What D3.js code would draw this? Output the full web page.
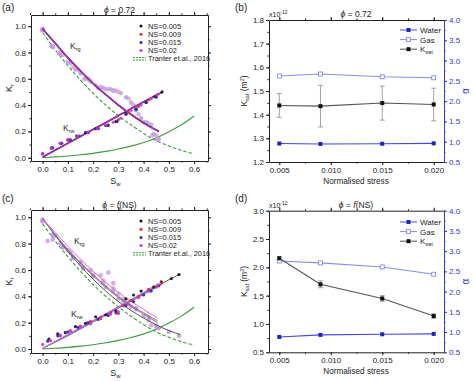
<!DOCTYPE html>
<html>
<head>
<meta charset="utf-8">
<script src="https://cdn.jsdelivr.net/npm/d3@7"></script>
<style>
  body { margin: 0; background: #fff; }
  text { font-family: "Liberation Sans", Arial, sans-serif; }
</style>
</head>
<body>
<div id="chart"></div>
<script>
var svgWidth = 474;
var svgHeight = 381;

// ---------- data: panels (a) and (c) ----------
var nsLabels = ["NS=0.005", "NS=0.009", "NS=0.015", "NS=0.02"];
var nsColors = ["#111111", "#e0302a", "#2424c8", "#cc33dd"];
var nsPale = ["#b8a0c8", "#d8a0d0", "#a8a0e0", "#d493e8"];

// Tranter et al., 2016 (same curves in a and c)
var tranterSw = [0, 0.05, 0.1, 0.15, 0.2, 0.25, 0.3, 0.35, 0.4, 0.45, 0.5, 0.55, 0.6];
var tranterKrg = [0.95, 0.82, 0.70, 0.59, 0.49, 0.40, 0.32, 0.25, 0.185, 0.13, 0.09, 0.055, 0.03];
var tranterKrw = [0.0, 0.006, 0.013, 0.022, 0.033, 0.048, 0.066, 0.088, 0.115, 0.15, 0.197, 0.25, 0.317];

// (a) fitted curves, phi = 0.72
var fitSwA = [0, 0.05, 0.1, 0.15, 0.2, 0.25, 0.3, 0.35, 0.4, 0.46];
var fitKrgA = [0.98, 0.87, 0.76, 0.66, 0.565, 0.48, 0.40, 0.33, 0.265, 0.20];
var fitKrwSwA = [0, 0.1, 0.2, 0.3, 0.4, 0.47];
var fitKrwA = [0.005, 0.11, 0.215, 0.32, 0.425, 0.495];

// (a) measured points, one pair of arrays per NS
var krwSwA = [
  [0.035, 0.07, 0.10, 0.135, 0.17, 0.21, 0.25, 0.29, 0.33, 0.37, 0.41, 0.445, 0.473],
  [0.0, 0.035, 0.075, 0.105, 0.14, 0.18, 0.22, 0.26, 0.30, 0.34, 0.38, 0.42, 0.45],
  [0.0, 0.04, 0.075, 0.11, 0.145, 0.18, 0.22, 0.26, 0.295, 0.33, 0.37, 0.41, 0.45],
  [0.0, 0.035, 0.07, 0.10, 0.14, 0.18, 0.215, 0.25, 0.28, 0.31, 0.35, 0.39, 0.43, 0.455]
];
var krwA = [
  [0.075, 0.11, 0.135, 0.165, 0.19, 0.22, 0.245, 0.275, 0.335, 0.37, 0.42, 0.465, 0.50],
  [0.03, 0.07, 0.11, 0.135, 0.16, 0.195, 0.225, 0.25, 0.29, 0.345, 0.39, 0.44, 0.47],
  [0.03, 0.075, 0.11, 0.135, 0.165, 0.19, 0.22, 0.245, 0.275, 0.33, 0.37, 0.42, 0.46],
  [0.03, 0.07, 0.11, 0.135, 0.165, 0.19, 0.22, 0.25, 0.27, 0.30, 0.36, 0.40, 0.45, 0.48]
];
var krgSwA = [
  [0.0, 0.04, 0.08, 0.13, 0.17, 0.22, 0.27, 0.31, 0.35, 0.39, 0.43, 0.46],
  [0.0, 0.04, 0.075, 0.12, 0.165, 0.21, 0.25, 0.30, 0.34, 0.38, 0.42, 0.45],
  [0.0, 0.035, 0.07, 0.11, 0.15, 0.19, 0.24, 0.28, 0.33, 0.37, 0.41, 0.44],
  [0.0, 0.04, 0.065, 0.10, 0.14, 0.18, 0.23, 0.26, 0.29, 0.36, 0.40, 0.435, 0.455]
];
var krgA = [
  [0.975, 0.845, 0.78, 0.67, 0.60, 0.53, 0.52, 0.49, 0.42, 0.30, 0.25, 0.14],
  [0.97, 0.84, 0.79, 0.69, 0.60, 0.55, 0.52, 0.50, 0.45, 0.33, 0.26, 0.17],
  [0.97, 0.85, 0.80, 0.72, 0.64, 0.58, 0.53, 0.51, 0.46, 0.36, 0.27, 0.18],
  [0.98, 0.845, 0.79, 0.73, 0.67, 0.60, 0.54, 0.52, 0.51, 0.40, 0.27, 0.17, 0.14]
];

// (c) fitted curves, phi = f(NS)
var fitKrgSwC = [
  [0, 0.1, 0.2, 0.3, 0.4, 0.5, 0.545],
  [0, 0.1, 0.2, 0.3, 0.4, 0.455],
  [0, 0.1, 0.2, 0.3, 0.4, 0.455],
  [0, 0.1, 0.2, 0.3, 0.4, 0.455]
];
var fitKrgC = [
  [0.99, 0.74, 0.53, 0.36, 0.235, 0.14, 0.11],
  [0.99, 0.755, 0.565, 0.40, 0.275, 0.215],
  [0.99, 0.75, 0.555, 0.39, 0.265, 0.20],
  [0.99, 0.78, 0.59, 0.43, 0.30, 0.235]
];
var fitKrwSwC = [
  [0, 0.1, 0.2, 0.3, 0.4, 0.5, 0.545],
  [0, 0.1, 0.2, 0.3, 0.4, 0.47],
  [0, 0.1, 0.2, 0.3, 0.4, 0.47],
  [0, 0.1, 0.2, 0.3, 0.4, 0.46]
];
var fitKrwC = [
  [0.005, 0.11, 0.215, 0.32, 0.425, 0.525, 0.57],
  [0.005, 0.105, 0.21, 0.315, 0.42, 0.495],
  [0.005, 0.10, 0.205, 0.31, 0.415, 0.49],
  [0.005, 0.11, 0.215, 0.32, 0.43, 0.50]
];

// (c) measured points
var krwSwC = [
  [0.025, 0.06, 0.09, 0.13, 0.17, 0.21, 0.25, 0.29, 0.33, 0.36, 0.39, 0.42, 0.44, 0.47, 0.51, 0.54],
  [0.03, 0.07, 0.11, 0.15, 0.19, 0.23, 0.27, 0.30, 0.32, 0.35, 0.38, 0.42, 0.45, 0.47],
  [0.02, 0.06, 0.10, 0.14, 0.18, 0.22, 0.26, 0.29, 0.33, 0.36, 0.40, 0.43, 0.46],
  [0.0, 0.03, 0.07, 0.11, 0.15, 0.19, 0.23, 0.27, 0.30, 0.34, 0.38, 0.42, 0.455]
];
var krwC = [
  [0.075, 0.115, 0.125, 0.17, 0.195, 0.245, 0.26, 0.29, 0.38, 0.41, 0.44, 0.45, 0.47, 0.51, 0.535, 0.565],
  [0.065, 0.10, 0.14, 0.175, 0.21, 0.24, 0.275, 0.27, 0.33, 0.37, 0.40, 0.45, 0.47, 0.50],
  [0.06, 0.10, 0.13, 0.165, 0.20, 0.225, 0.255, 0.275, 0.33, 0.36, 0.41, 0.44, 0.48],
  [0.035, 0.065, 0.105, 0.135, 0.17, 0.19, 0.23, 0.265, 0.285, 0.34, 0.39, 0.44, 0.48]
];
var krgSwC = [
  [0.0, 0.05, 0.1, 0.15, 0.2, 0.25, 0.3, 0.35, 0.4, 0.46, 0.5, 0.54],
  [0.0, 0.04, 0.08, 0.12, 0.16, 0.2, 0.24, 0.28, 0.32, 0.37, 0.42, 0.45],
  [0.0, 0.04, 0.08, 0.12, 0.16, 0.2, 0.24, 0.28, 0.32, 0.37, 0.42, 0.45],
  [0.0, 0.02, 0.04, 0.07, 0.11, 0.15, 0.19, 0.23, 0.26, 0.28, 0.3, 0.43, 0.46]
];
var krgC = [
  [0.98, 0.86, 0.75, 0.66, 0.56, 0.47, 0.38, 0.32, 0.25, 0.16, 0.13, 0.10],
  [0.97, 0.87, 0.78, 0.70, 0.62, 0.56, 0.52, 0.46, 0.38, 0.31, 0.24, 0.18],
  [0.97, 0.86, 0.77, 0.69, 0.61, 0.55, 0.50, 0.44, 0.36, 0.30, 0.22, 0.17],
  [0.98, 0.82, 0.83, 0.80, 0.73, 0.65, 0.60, 0.56, 0.58, 0.50, 0.42, 0.18, 0.16]
];

// ---------- data: panels (b) and (d) ----------
var stress = [0.005, 0.009, 0.015, 0.020];
var xTicksStress = [0.005, 0.010, 0.015, 0.020];
var waterAlphaB = [0.955, 0.945, 0.95, 0.96];
var gasAlphaB = [2.62, 2.67, 2.60, 2.575];
var ksatB = [1.439, 1.436, 1.449, 1.443];
var ksatErrB = [0.05, 0.088, 0.072, 0.069];
var waterAlphaD = [0.88, 0.93, 0.945, 0.955];
var gasAlphaD = [2.755, 2.71, 2.61, 2.43];
var ksatD = [2.16, 1.70, 1.45, 1.14];
var ksatErrD = [0.03, 0.06, 0.05, 0.04];

var svg = d3.select("#chart")
  .append("svg")
  .attr("width", svgWidth)
  .attr("height", svgHeight);

var blue = "#3535d8";
var green = "#3d9b3d";

function range(a, b, s) {
  var out = [];
  for (var v = a; v <= b + s / 1000; v += s) out.push(+v.toFixed(6));
  return out;
}

// draw one axis with major + minor ticks
function drawAxis(g, axisFn, scale, major, minor, fmt, transform, color, labels) {
  var major_ = axisFn(scale).tickValues(major).tickSize(3).tickSizeOuter(0).tickPadding(2)
    .tickFormat(labels ? fmt : "");
  var minor_ = axisFn(scale).tickValues(minor).tickSize(1.6).tickSizeOuter(0).tickFormat("");
  var a = g.append("g").attr("transform", transform).call(major_);
  var m = g.append("g").attr("transform", transform).call(minor_);
  m.select(".domain").remove();
  m.selectAll("line").attr("stroke", color);
  a.selectAll("path,line").attr("stroke", color);
  a.selectAll("text").attr("fill", color).attr("font-size", "8px")
    .attr("font-family", "Liberation Sans, Arial, sans-serif");
  return a;
}

function krPanel(o) {
  var g = svg.append("g");
  var x = d3.scaleLinear().domain([-0.046, 0.655]).range([o.L, o.R]);
  var y = d3.scaleLinear().domain(o.yDom).range([o.B, o.T]);
  var xMaj = range(0, 0.6, 0.1), xMin = range(-0.05, 0.65, 0.05);
  var yMaj = range(0, 1, 0.2), yMin = range(0, 1, 0.1);
  var f1 = d3.format(".1f");
  drawAxis(g, d3.axisBottom, x, xMaj, xMin, f1, "translate(0," + o.B + ")", "#222", true);
  drawAxis(g, d3.axisTop, x, xMaj, xMin, f1, "translate(0," + o.T + ")", "#222", false);
  drawAxis(g, d3.axisLeft, y, yMaj, yMin, f1, "translate(" + o.L + ",0)", "#222", true);
  drawAxis(g, d3.axisRight, y, yMaj, yMin, f1, "translate(" + o.R + ",0)", "#222", false);

  var line = d3.line().x(d => x(d[0])).y(d => y(d[1])).curve(d3.curveMonotoneX);
  var body = g.append("g");

  // Tranter curves
  body.append("path").attr("d", line(d3.zip(tranterSw, tranterKrg)))
    .attr("fill", "none").attr("stroke", green).attr("stroke-width", 1.1).attr("stroke-dasharray", "3.5,2");
  body.append("path").attr("d", line(d3.zip(tranterSw, tranterKrw)))
    .attr("fill", "none").attr("stroke", green).attr("stroke-width", 1.1);

  // measured Krg points (pale)
  o.krgSw.forEach(function(sw, i) {
    body.selectAll(null).data(d3.zip(sw, o.krg[i])).enter().append("circle")
      .attr("cx", d => x(d[0])).attr("cy", d => y(d[1])).attr("r", 2.3)
      .attr("fill", nsPale[i]).attr("opacity", 0.8);
  });

  // fitted curves
  o.fits.forEach(function(f) {
    body.append("path").attr("d", line(d3.zip(f.sw, f.kr)))
      .attr("fill", "none").attr("stroke", f.color).attr("stroke-width", f.w || 1.2)
      .attr("stroke-opacity", f.op || 1);
  });

  // measured Krw points
  o.krwSw.forEach(function(sw, i) {
    body.selectAll(null).data(d3.zip(sw, o.krw[i])).enter().append("circle")
      .attr("cx", d => x(d[0])).attr("cy", d => y(d[1])).attr("r", 1.6)
      .attr("fill", nsColors[i]).attr("opacity", 0.9);
  });

  // curve labels
  var t1 = g.append("text").attr("x", o.kgLab[0]).attr("y", o.kgLab[1]).attr("font-size", "8.5px").attr("fill", "#222");
  t1.append("tspan").text("K");
  t1.append("tspan").attr("font-size", "5.5px").attr("dy", 2).text("rg");
  var t2 = g.append("text").attr("x", o.kwLab[0]).attr("y", o.kwLab[1]).attr("font-size", "8.5px").attr("fill", "#222");
  t2.append("tspan").text("K");
  t2.append("tspan").attr("font-size", "5.5px").attr("dy", 2).text("rw");

  // axis titles
  var yl = g.append("text").attr("transform", "translate(12," + ((o.T + o.B) / 2) + ") rotate(-90)")
    .attr("text-anchor", "middle").attr("font-size", "9px").attr("fill", "#222");
  yl.append("tspan").text("K");
  yl.append("tspan").attr("font-size", "6px").attr("dy", 2).text("r");
  var xl = g.append("text").attr("x", (o.L + o.R) / 2 - 4).attr("y", o.B + 23)
    .attr("text-anchor", "middle").attr("font-size", "9px").attr("fill", "#222");
  xl.append("tspan").text("S");
  xl.append("tspan").attr("font-size", "6px").attr("dy", 2).text("w");

  // title
  var tt = g.append("text").attr("x", (o.L + o.R) / 2).attr("y", o.T - 2).attr("text-anchor", "middle")
    .attr("font-family", "Liberation Serif, Times New Roman, serif").attr("font-size", "8.5px").attr("fill", "#222");
  tt.append("tspan").attr("font-style", "italic").text("\u03D5");
  tt.append("tspan").text(" = ");
  o.title(tt);

  g.append("text").attr("x", 2).attr("y", o.panelY).attr("font-size", "10px").attr("fill", "#222").text(o.panel);

  // legend
  var lx = 141, ly = o.T + 13.5, dy = 8.2;
  nsLabels.forEach(function(lab, i) {
    g.append("circle").attr("cx", lx).attr("cy", ly + i * dy - 2.5).attr("r", 1.5).attr("fill", nsColors[i]);
    g.append("text").attr("x", lx + 7).attr("y", ly + i * dy).attr("font-size", "7.4px").attr("fill", "#222").text(lab);
  });
  var ty = ly + 4 * dy - 2.5;
  g.append("line").attr("x1", 133).attr("x2", 146).attr("y1", ty - 1.2).attr("y2", ty - 1.2)
    .attr("stroke", green).attr("stroke-width", 1).attr("stroke-dasharray", "2,1");
  g.append("line").attr("x1", 133).attr("x2", 146).attr("y1", ty + 1.2).attr("y2", ty + 1.2)
    .attr("stroke", green).attr("stroke-width", 1).attr("stroke-dasharray", "2,1");
  g.append("text").attr("x", 148).attr("y", ly + 4 * dy).attr("font-size", "7.4px").attr("fill", "#222")
    .text("Tranter et.al., 2016");
}

function stressPanel(o) {
  var g = svg.append("g");
  var x = d3.scaleLinear().domain([0.004, 0.021]).range([o.L, o.R]);
  var yL = d3.scaleLinear().domain(o.yDom).range([o.B, o.T]);
  var yR = d3.scaleLinear().domain([0.5, 4.0]).range([o.B, o.T]);
  var xMin = range(0.0025, 0.0225, 0.0025).filter(v => v >= 0.004 && v <= 0.021);
  var f3 = d3.format(".3f"), f1 = d3.format(".1f");
  drawAxis(g, d3.axisBottom, x, xTicksStress, xMin, f3, "translate(0," + o.B + ")", "#222", true);
  drawAxis(g, d3.axisTop, x, xTicksStress, xMin, f3, "translate(0," + o.T + ")", "#222", false);
  drawAxis(g, d3.axisLeft, yL, o.yMaj, o.yMin, f1, "translate(" + o.L + ",0)", "#222", true);
  drawAxis(g, d3.axisRight, yR, range(0.5, 4, 0.5), range(0.5, 4, 0.25), f1, "translate(" + o.R + ",0)", blue, true);

  var lineL = d3.line().x((d, i) => x(stress[i])).y(d => yL(d));
  var lineR = d3.line().x((d, i) => x(stress[i])).y(d => yR(d));

  // error bars
  o.ksat.forEach(function(v, i) {
    var cx = x(stress[i]);
    g.append("line").attr("x1", cx).attr("x2", cx).attr("y1", yL(v - o.err[i])).attr("y2", yL(v + o.err[i]))
      .attr("stroke", "#8a8a8a").attr("stroke-width", 0.8);
    [v - o.err[i], v + o.err[i]].forEach(function(e) {
      g.append("line").attr("x1", cx - 2.5).attr("x2", cx + 2.5).attr("y1", yL(e)).attr("y2", yL(e))
        .attr("stroke", "#8a8a8a").attr("stroke-width", 0.8);
    });
  });

  g.append("path").attr("d", lineR(o.water)).attr("fill", "none").attr("stroke", "#4646e0").attr("stroke-width", 1.1);
  g.append("path").attr("d", lineR(o.gas)).attr("fill", "none").attr("stroke", "#8c8cf0").attr("stroke-width", 1.1);
  g.append("path").attr("d", lineL(o.ksat)).attr("fill", "none").attr("stroke", "#555").attr("stroke-width", 1.1);

  var s = 4;
  g.selectAll(null).data(o.water).enter().append("rect")
    .attr("x", (d, i) => x(stress[i]) - s / 2).attr("y", d => yR(d) - s / 2)
    .attr("width", s).attr("height", s).attr("fill", "#2020c8");
  g.selectAll(null).data(o.gas).enter().append("rect")
    .attr("x", (d, i) => x(stress[i]) - s / 2).attr("y", d => yR(d) - s / 2)
    .attr("width", s).attr("height", s).attr("fill", "#fff").attr("stroke", "#7a7aee").attr("stroke-width", 0.8);
  g.selectAll(null).data(o.ksat).enter().append("rect")
    .attr("x", (d, i) => x(stress[i]) - s / 2).attr("y", d => yL(d) - s / 2)
    .attr("width", s).attr("height", s).attr("fill", "#111");

  // legend
  var items = [
    { name: "Water", stroke: "#4646e0", fill: "#2020c8" },
    { name: "Gas", stroke: "#8c8cf0", fill: "#fff" },
    { name: "K", stroke: "#555", fill: "#111", sub: "sat" }
  ];
  items.forEach(function(it, i) {
    var ly = o.legY + i * 9.6;
    g.append("line").attr("x1", 400).attr("x2", 417).attr("y1", ly).attr("y2", ly)
      .attr("stroke", it.stroke).attr("stroke-width", 1);
    g.append("rect").attr("x", 408.5 - 2).attr("y", ly - 2).attr("width", 4).attr("height", 4)
      .attr("fill", it.fill).attr("stroke", it.fill === "#fff" ? "#7a7aee" : "none").attr("stroke-width", 0.8);
    var t = g.append("text").attr("x", 420).attr("y", ly + 3).attr("font-size", "8px").attr("fill", "#222");
    t.append("tspan").text(it.name);
    if (it.sub) t.append("tspan").attr("font-size", "5.5px").attr("dy", 2).text(it.sub);
  });

  // exponent note
  var ex = g.append("text").attr("x", o.L).attr("y", o.T - 3).attr("font-size", "7px").attr("fill", "#222");
  ex.append("tspan").text("x10");
  ex.append("tspan").attr("font-size", "5px").attr("dy", -3).text("-12");

  var tt = g.append("text").attr("x", 356).attr("y", o.T - 3).attr("text-anchor", "middle")
    .attr("font-family", "Liberation Serif, Times New Roman, serif").attr("font-size", "8.5px").attr("fill", "#222");
  tt.append("tspan").attr("font-style", "italic").text("\u03D5");
  tt.append("tspan").text(" = ");
  o.title(tt);

  var yl = g.append("text").attr("transform", "translate(247," + ((o.T + o.B) / 2) + ") rotate(-90)")
    .attr("text-anchor", "middle").attr("font-size", "8.5px").attr("fill", "#222");
  yl.append("tspan").text("K");
  yl.append("tspan").attr("font-size", "5.5px").attr("dy", 2).text("sat");
  yl.append("tspan").attr("dy", -2).text(" (m");
  yl.append("tspan").attr("font-size", "5.5px").attr("dy", -3).text("2");
  yl.append("tspan").attr("dy", 3).text(")");

  g.append("text").attr("transform", "translate(469," + ((o.T + o.B) / 2) + ") rotate(-90)")
    .attr("text-anchor", "middle").attr("font-size", "10px").attr("fill", blue).text("\u03B1");

  g.append("text").attr("x", 356).attr("y", o.B + 22).attr("text-anchor", "middle")
    .attr("font-size", "8.2px").attr("fill", "#222").text("Normalised stress");

  g.append("text").attr("x", 235).attr("y", o.panelY).attr("font-size", "10px").attr("fill", "#222").text(o.panel);
}

function fixedTitle(txt) { return function(t) { t.append("tspan").text(txt); }; }
function fnsTitle(t) {
  t.append("tspan").attr("font-style", "italic").text("f");
  t.append("tspan").text("(NS)");
}

var fitsA = nsColors.map(function(c, i) {
  return [
    { sw: fitSwA, kr: fitKrgA, color: i === 3 ? "#b03cc0" : "#5a1a70", op: 0.8, w: 1.4 },
    { sw: fitKrwSwA, kr: fitKrwA, color: i === 3 ? "#b03cc0" : "#5a1a70", op: 0.8, w: 1.4 }
  ];
}).flat();

var fitColorsC = ["#5f4f4f", "#c06a4a", "#6a6ad8", "#d66ae0"];
var fitsC = [];
fitKrgC.forEach(function(kr, i) {
  fitsC.push({ sw: fitKrgSwC[i], kr: kr, color: fitColorsC[i], w: 1 });
  fitsC.push({ sw: fitKrwSwC[i], kr: fitKrwC[i], color: fitColorsC[i], w: 1 });
});

krPanel({
  L: 31, R: 208, T: 15, B: 161, yDom: [-0.025, 1.085], panel: "(a)", panelY: 11,
  title: fixedTitle("0.72"),
  krwSw: krwSwA, krw: krwA, krgSw: krgSwA, krg: krgA, fits: fitsA,
  kgLab: [70, 49], kwLab: [63, 131]
});
krPanel({
  L: 31, R: 208, T: 210, B: 353, yDom: [-0.03, 1.055], panel: "(c)", panelY: 202,
  title: fnsTitle,
  krwSw: krwSwC, krw: krwC, krgSw: krgSwC, krg: krgC, fits: fitsC,
  kgLab: [74, 244], kwLab: [71, 317]
});

stressPanel({
  L: 269, R: 444, T: 20, B: 162, yDom: [1.2, 1.8], yMaj: range(1.2, 1.8, 0.1), yMin: range(1.2, 1.8, 0.05),
  water: waterAlphaB, gas: gasAlphaB, ksat: ksatB, err: ksatErrB,
  title: fixedTitle("0.72"), legY: 30, panel: "(b)", panelY: 11
});
stressPanel({
  L: 269, R: 444, T: 210.7, B: 352.3, yDom: [0.5, 3.0], yMaj: range(0.5, 3.0, 0.5), yMin: range(0.5, 3.0, 0.25),
  water: waterAlphaD, gas: gasAlphaD, ksat: ksatD, err: ksatErrD,
  title: fnsTitle, legY: 222, panel: "(d)", panelY: 202
});
</script>
</body>
</html>
